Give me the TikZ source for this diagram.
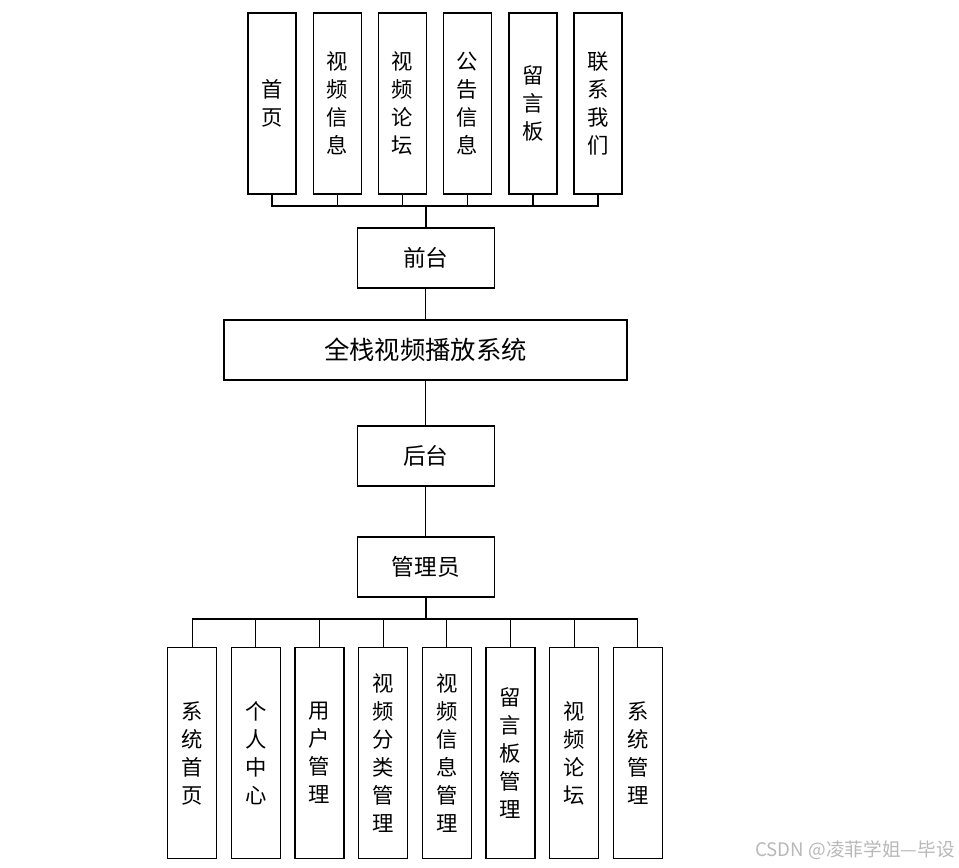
\documentclass[tikz,border=0pt]{standalone}
\usepackage{fontspec}
\setmainfont{Noto Sans CJK SC}
\usepackage{tikz}
\usetikzlibrary{positioning, calc}

\begin{document}
\begin{tikzpicture}[
  x=0.75pt, y=-0.75pt,
  every node/.style={inner sep=0pt, text centered},
  colbox/.style={draw, line width=1pt, minimum width=36pt, minimum height=135.75pt,
    align=center, font=\fontsize{16pt}{21pt}\selectfont},
  lowbox/.style={draw, line width=1pt, minimum width=36.75pt, minimum height=158.5pt,
    align=center, font=\fontsize{16pt}{21pt}\selectfont},
  midbox/.style={draw, line width=1pt, minimum width=102.75pt, minimum height=45pt,
    font=\fontsize{17pt}{20pt}\selectfont},
  link/.style={draw, line width=1pt},
  trunk/.style={draw, line width=1.6pt}
]
\useasboundingbox (0,0) rectangle (959,867);

% front end pages
\node[colbox] (home)   at (272,103.5)   {首\\页};
\node[colbox] (vinfo)  at (337.5,103.5) {视\\频\\信\\息};
\node[colbox] (vforum) at (402.5,103.5) {视\\频\\论\\坛};
\node[colbox] (notice) at (467.5,103.5) {公\\告\\信\\息};
\node[colbox] (board)  at (533,103.5)   {留\\言\\板};
\node[colbox] (contact) at (598,103.5)  {联\\系\\我\\们};

% middle chain
\node[midbox] (front) at (425.7,258) {前台};
\node[midbox, minimum width=302.25pt, font=\fontsize{19pt}{22pt}\selectfont]
  (system) at (425.5,350) {全栈视频播放系统};
\node[midbox] (back)  at (425.7,456) {后台};
\node[midbox] (admin) at (425.7,567) {管理员};

% admin functions
\node[lowbox] (ahome)  at (192.3,753) {系\\统\\首\\页};
\node[lowbox] (center) at (255.8,753) {个\\人\\中\\心};
\node[lowbox] (users)  at (319.5,753) {用\\户\\管\\理};
\node[lowbox] (vcat)   at (383.2,753) {视\\频\\分\\类\\管\\理};
\node[lowbox] (vmgr)   at (446.8,753) {视\\频\\信\\息\\管\\理};
\node[lowbox] (bmgr)   at (510.5,753) {留\\言\\板\\管\\理};
\node[lowbox] (aforum) at (574.2,753) {视\\频\\论\\坛};
\node[lowbox] (sysmgr) at (637.7,753) {系\\统\\管\\理};

\coordinate (topbus) at (425.7,206);
\coordinate (lowbus) at (425.7,619);

% top tree
\draw[link] (home.south) |- (topbus);
\draw[link] (vinfo.south) |- (topbus);
\draw[link] (vforum.south) |- (topbus);
\draw[link] (notice.south) |- (topbus);
\draw[link] (board.south) |- (topbus);
\draw[link] (contact.south) |- (topbus);
\draw[trunk] (topbus) -- (front.north);

\draw[link] (front.south) -- (front.south |- system.north);
\draw[link] (back.north |- system.south) -- (back.north);
\draw[link] (back.south) -- (admin.north);

% bottom tree
\draw[trunk] (admin.south) -- (lowbus);
\draw[link] (ahome.north) |- (lowbus);
\draw[link] (center.north) |- (lowbus);
\draw[link] (users.north) |- (lowbus);
\draw[link] (vcat.north) |- (lowbus);
\draw[link] (vmgr.north) |- (lowbus);
\draw[link] (bmgr.north) |- (lowbus);
\draw[link] (aforum.north) |- (lowbus);
\draw[link] (sysmgr.north) |- (lowbus);

\node[anchor=east, text=black!28, font=\fontsize{14pt}{16pt}\selectfont]
  (mark) at (955,850) {CSDN @凌菲学姐—毕设};
\end{tikzpicture}
\end{document}
